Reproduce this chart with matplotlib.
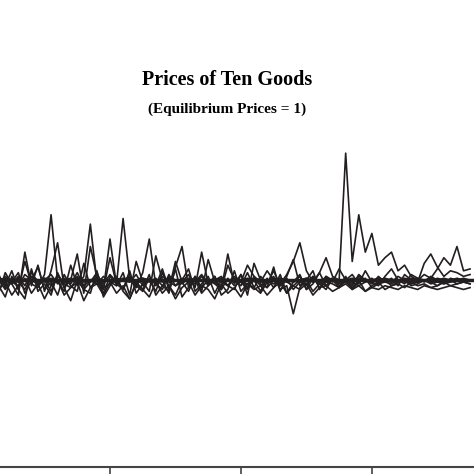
import numpy as np
import matplotlib.pyplot as plt

# prices of ten goods, sampled every 5 periods starting at t=15
g1 = [1.02,0.97,1.05,0.95,1.10,0.98,0.96,1.03,1.35,1.00,0.94,1.08,0.97,1.02,1.30,0.99,0.95,1.12,0.98,1.33,
      1.01,0.96,1.04,1.22,0.97,1.06,0.95,1.10,0.99,1.03,0.96,1.15,0.98,1.02,0.95,1.08,1.00,0.97,1.04,0.96,
      1.02,0.98,1.05,0.97,1.00,0.99,1.03,0.95,1.01,0.98,1.02,1.00,0.99,1.01,0.98,1.02,1.00,0.99,1.01,1.00,
      0.99,1.02,1.00,0.98,1.01,1.00,0.99,1.01,1.00,0.99,1.00,1.01,1.00]
g2 = [0.99,1.00,0.98,1.02,0.97,1.04,0.99,1.00,1.03,0.98,1.01,0.99,1.02,0.97,1.00,1.01,0.98,1.03,0.99,1.00,
      1.02,0.98,1.00,0.99,1.01,0.97,1.02,1.00,0.98,1.01,0.99,1.03,0.98,1.00,1.02,0.97,1.01,0.99,1.08,1.02,
      0.99,1.05,1.00,0.98,1.03,1.10,1.20,1.05,0.99,1.04,1.12,1.02,1.00,1.68,1.10,1.35,1.15,1.25,1.08,1.12,
      1.15,1.05,1.08,1.02,1.00,1.03,1.01,1.06,1.12,1.08,1.18,1.05,1.06]
g3 = [0.93,1.04,0.98,0.92,1.15,0.97,1.08,0.94,1.05,1.20,0.96,1.00,1.14,0.93,1.18,1.02,0.95,1.22,0.97,1.04,
      0.92,1.10,0.99,0.94,1.13,1.00,0.93,1.07,1.18,0.96,1.02,0.94,1.11,0.99,0.95,1.14,0.98,1.03,0.92,1.09,
      1.00,0.96,1.07,0.94,1.02,1.11,0.97,1.00,1.05,0.95,1.02,0.99,1.06,1.00,0.97,1.03,1.00,0.98,1.02,0.99,
      1.01,0.97,1.03,1.00,0.99,1.09,1.14,1.07,1.02,1.05,1.04,1.02,1.03]
g4 = [0.97,0.91,1.02,0.95,0.90,1.06,0.94,0.98,0.92,1.04,0.96,0.89,1.00,0.95,0.93,1.05,0.91,0.97,1.02,0.94,
      0.90,0.99,0.95,1.03,0.92,0.97,0.94,1.06,0.91,0.96,1.00,0.93,0.97,1.02,0.92,0.95,1.05,0.94,0.98,0.96,
      0.93,0.99,1.02,0.95,0.97,0.82,0.96,1.00,0.94,0.98,0.95,1.01,0.97,0.99,0.96,1.00,0.94,0.97,0.99,0.95,
      0.97,0.98,0.96,0.99,0.97,0.98,0.96,0.97,0.99,0.97,0.98,0.99,0.98]
g5 = [1.00,0.95,0.99,1.04,0.93,1.00,1.07,0.95,0.99,0.92,1.03,0.97,0.94,1.09,0.96,1.00,0.93,1.02,0.98,0.95,
      1.05,0.93,0.98,1.00,0.94,1.04,0.97,0.92,1.00,1.06,0.94,0.98,1.02,0.93,1.00,0.97,0.95,1.03,0.96,1.00,
      0.94,1.01,0.96,1.03,0.93,0.99,1.02,0.95,0.98,1.04,0.97,1.00,0.96,1.02,0.95,0.99,1.01,0.96,0.98,1.00,
      0.97,0.99,1.00,0.97,0.98,1.00,0.99,0.97,0.99,1.00,0.98,0.99,1.00]
g6 = [1.01,1.00,0.99,1.01,1.00,1.00,0.99,1.01,1.00,0.99,1.00,1.01,1.00,0.99,1.00,1.01,0.99,1.00,1.01,1.00,
      0.99,1.00,1.01,1.00,0.99,1.00,1.01,1.00,1.00,0.99,1.01,1.00,0.99,1.00,1.01,1.00,0.99,1.00,1.00,1.01,
      1.00,0.99,1.00,1.01,1.00,0.99,1.00,1.01,1.00,0.99,1.00,1.01,1.00,0.99,1.00,1.01,1.00,0.99,1.00,1.01,
      1.00,0.99,1.00,1.01,1.00,1.00,0.99,1.00,1.01,1.00,1.00,0.99,1.00]
g7 = [0.98,1.02,0.99,0.97,1.03,1.00,0.98,1.01,0.97,1.02,0.99,0.98,1.04,0.97,1.00,0.98,1.02,0.99,0.97,1.01,
      0.99,1.03,0.97,1.00,0.98,1.02,0.99,0.97,1.01,0.99,0.98,1.02,0.97,1.00,0.99,0.97,1.02,0.99,0.98,1.01,
      0.97,1.00,0.98,1.01,0.99,0.97,1.00,0.98,1.02,0.99,0.97,1.01,0.98,1.00,0.99,0.97,0.99,1.01,0.98,0.99,
      0.98,1.00,0.99,0.98,0.99,1.00,0.98,0.99,0.98,0.99,1.00,0.99,0.98]
g8 = [0.95,0.99,0.92,0.97,1.01,0.93,0.98,0.90,0.97,1.00,0.92,0.96,0.99,0.89,0.96,0.98,0.92,0.99,0.93,0.97,
      0.90,0.98,0.95,0.91,0.99,0.93,0.97,0.90,0.96,0.99,0.92,0.97,0.95,0.90,0.98,0.93,0.96,0.91,0.98,0.95,
      0.97,0.92,0.96,0.99,0.93,0.97,0.95,0.98,0.92,0.96,0.97,0.94,0.96,0.98,0.95,0.97,0.94,0.96,0.95,0.97,
      0.96,0.95,0.97,0.96,0.95,0.97,0.96,0.95,0.96,0.97,0.96,0.95,0.96]
g9 = [1.00,1.01,1.00,0.99,1.00,1.02,1.00,0.99,1.01,1.00,0.99,1.00,1.01,1.00,0.99,1.01,1.00,1.00,0.99,1.01,
      1.00,0.99,1.01,1.00,1.00,0.99,1.01,1.00,0.99,1.00,1.01,1.00,1.00,0.99,1.01,1.00,0.99,1.00,1.01,1.00,
      0.99,1.00,1.01,1.00,0.99,1.00,1.00,1.01,0.99,1.00,1.01,1.00,0.99,1.00,1.01,1.00,0.99,1.00,1.01,1.00,
      0.99,1.00,1.01,1.00,0.99,1.00,1.01,1.00,0.99,1.00,1.01,1.00,1.00]
g10 = [1.03,0.96,1.01,0.99,0.95,1.02,0.97,1.00,0.94,1.03,0.98,0.96,1.01,0.95,0.99,1.04,0.96,0.98,1.00,0.95,
       1.02,0.97,0.94,1.01,0.98,0.95,1.03,0.97,0.99,0.94,1.02,0.96,1.00,0.98,0.95,1.01,0.97,0.99,0.95,1.02,
       0.98,0.96,1.00,0.97,1.01,0.95,0.99,0.97,1.02,0.96,0.99,0.98,0.96,1.00,1.03,0.98,1.05,0.99,0.97,1.02,
       1.06,1.00,0.98,1.03,1.01,0.99,1.02,1.00,0.98,1.01,1.00,0.99,1.00]
goods = [g1, g2, g3, g4, g5, g6, g7, g8, g9, g10]

plt.rcParams['font.family'] = ['Liberation Serif', 'DejaVu Serif']
fig = plt.figure(figsize=(4.74, 4.74), dpi=100)
ax = fig.add_axes([0, 0.015, 1, 0.985])

for g in goods:
    t = 15 + 5 * np.arange(len(g))
    ax.plot(t, g, color='#231f20', linewidth=1.2)
ax.axhline(1.0, color='#231f20', linewidth=2.5)

ax.set_xlim(16, 378)
ax.set_ylim(0, 2.5)
ax.set_xticks([100, 200, 300])
ax.set_xticklabels([])
ax.set_yticks([])
ax.tick_params(axis='x', direction='out', length=6, width=1.2, color='#444444')
for s in ['top', 'left', 'right']:
    ax.spines[s].set_visible(False)
ax.spines['bottom'].set_color('#444444')
ax.spines['bottom'].set_linewidth(1.5)

fig.text(0.48, 0.82, 'Prices of Ten Goods', ha='center', fontsize=14.5, fontweight='bold')
fig.text(0.48, 0.762, '(Equilibrium Prices = 1)', ha='center', fontsize=11, fontweight='bold')

fig.savefig('out.png', dpi=100)
